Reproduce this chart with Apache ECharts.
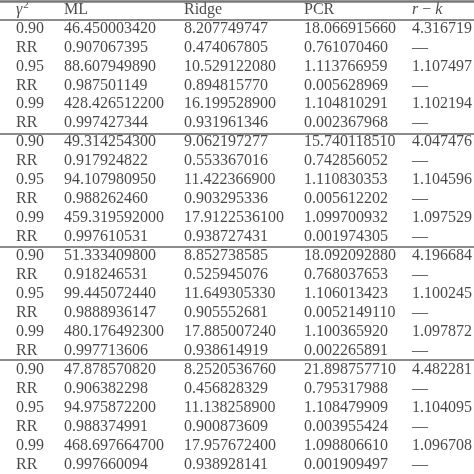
<!DOCTYPE html>
<html><head><meta charset="utf-8">
<script src="https://cdn.jsdelivr.net/npm/echarts@6/dist/echarts.min.js"></script>
<style>html,body{margin:0;padding:0;background:#fff}#c{width:474px;height:474px}</style>
</head><body><div id="c"></div>
<script>
const headers = ["γ²", "ML", "Ridge", "PCR", "r − k"];
const rowLabels = ["0.90","RR","0.95","RR","0.99","RR","0.90","RR","0.95","RR","0.99","RR","0.90","RR","0.95","RR","0.99","RR","0.90","RR","0.95","RR","0.99","RR"];
const mlValues = ["46.450003420","0.907067395","88.607949890","0.987501149","428.426512200","0.997427344",
 "49.314254300","0.917924822","94.107980950","0.988262460","459.319592000","0.997610531",
 "51.333409800","0.918246531","99.445072440","0.9888936147","480.176492300","0.997713606",
 "47.878570820","0.906382298","94.975872200","0.988374991","468.697664700","0.997660094"];
const ridgeValues = ["8.207749747","0.474067805","10.529122080","0.894815770","16.199528900","0.931961346",
 "9.062197277","0.553367016","11.422366900","0.903295336","17.9122536100","0.938727431",
 "8.852738585","0.525945076","11.649305330","0.905552681","17.885007240","0.938614919",
 "8.2520536760","0.456828329","11.138258900","0.900873609","17.957672400","0.938928141"];
const pcrValues = ["18.066915660","0.761070460","1.113766959","0.005628969","1.104810291","0.002367968",
 "15.740118510","0.742856052","1.110830353","0.005612202","1.099700932","0.001974305",
 "18.092092880","0.768037653","1.106013423","0.0052149110","1.100365920","0.002265891",
 "21.898757710","0.795317988","1.108479909","0.003955424","1.098806610","0.001909497"];
const rkValues = ["4.316719","—","1.107497","—","1.102194","—",
 "4.047476","—","1.104596","—","1.097529","—",
 "4.196684","—","1.100245","—","1.097872","—",
 "4.482281","—","1.104095","—","1.096708","—"];

const columnX = [16, 64, 184, 304, 412];
const columns = [rowLabels, mlValues, ridgeValues, pcrValues, rkValues];
const data = [];
headers.forEach((h, c) => data.push({value: [columnX[c], 0], name: h, header: c}));
columns.forEach((col, c) => col.forEach((t, r) => data.push({value: [columnX[c], r + 1], name: t})));

const chart = echarts.init(document.getElementById('c'));
chart.setOption({
  animation: false,
  grid: {left: 0, right: 0, top: 0, bottom: 0},
  xAxis: {type: 'value', min: 0, max: 474, show: false},
  yAxis: {type: 'value', inverse: true, min: -0.5, max: 24.5, show: false},
  series: [{
    type: 'scatter', symbolSize: 0, data: data, silent: true,
    label: {
      show: true, position: 'right', distance: 0, color: '#1a1a1a',
      fontFamily: 'Liberation Serif', fontSize: 16,
      formatter: p => {
        if (p.data.header === 0) return '{i|γ}{s|2}';
        if (p.data.header === 4) return '{i|r} − {i|k}';
        return p.name;
      },
      rich: {
        i: {fontStyle: 'italic', fontFamily: 'Liberation Serif', fontSize: 16, color: '#1a1a1a'},
        s: {fontSize: 11, fontFamily: 'Liberation Serif', verticalAlign: 'top', padding: [0,0,8,1], color: '#1a1a1a'}
      }
    },
    markLine: {
      symbol: 'none', silent: true, label: {show: false},
      lineStyle: {color: '#666', type: 'solid', width: 1.5},
      data: [{yAxis: -0.45, lineStyle: {width: 2.5, color: '#777'}}, {yAxis: 0.55}, {yAxis: 6.55}, {yAxis: 12.5}, {yAxis: 18.5}]
    }
  }]
});
</script></body></html>
